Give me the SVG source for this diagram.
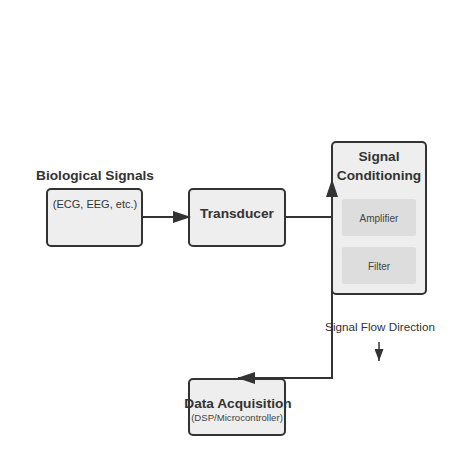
<svg xmlns="http://www.w3.org/2000/svg" width="474" height="474" viewBox="0 0 474 474">
<defs>
<style>
.box{fill:#eeeeee;stroke:#333333;stroke-width:2}
.sub{fill:#dddddd;stroke:none}
.t{font-family:"Liberation Sans",Arial,sans-serif;fill:#333333;text-anchor:middle}
.b{font-weight:bold;font-size:13.7px}
.s{font-size:11px}
.f{font-size:11.7px}
.xs{font-size:10px;fill:#444444}
.xs2{font-size:9.6px;fill:#444444}
.ln{fill:none;stroke:#333333;stroke-width:2}
</style>
<marker id="ah" viewBox="0 0 18 12" refX="17" refY="6" markerWidth="18" markerHeight="12" markerUnits="userSpaceOnUse" orient="auto">
<path d="M0,0 L18,6 L0,12 z" fill="#333333"/>
</marker>
<marker id="ahs" viewBox="0 0 12 9" refX="12" refY="4.5" markerWidth="12" markerHeight="9" markerUnits="userSpaceOnUse" orient="auto">
<path d="M0,0 L12,4.5 L0,9 z" fill="#333333"/>
</marker>
</defs>
<rect width="474" height="474" fill="#ffffff"/>
<g id="bio">
<rect class="box" x="47" y="189" width="95" height="57" rx="4"/>
<text class="t b" x="95" y="180">Biological Signals</text>
<text class="t s" x="95" y="208">(ECG, EEG, etc.)</text>
</g>
<g id="transducer">
<rect class="box" x="189" y="189" width="96" height="57" rx="4"/>
<text class="t b" x="237" y="218">Transducer</text>
</g>
<g id="conditioning">
<rect class="box" x="332" y="142" width="94" height="152" rx="4"/>
<text class="t b" x="379" y="161">Signal</text>
<text class="t b" x="379" y="180">Conditioning</text>
<rect class="sub" x="342" y="199" width="74" height="37" rx="2"/>
<text class="t xs" x="379" y="222">Amplifier</text>
<rect class="sub" x="342" y="247" width="74" height="37" rx="2"/>
<text class="t xs" x="379" y="270">Filter</text>
</g>
<g id="flow-label">
<text class="t f" x="380" y="331">Signal Flow Direction</text>
</g>
<g id="daq">
<rect class="box" x="189" y="379" width="96" height="56" rx="4"/>
<text class="t b" x="238" y="408">Data Acquisition</text>
<text class="t xs2" x="237" y="421">(DSP/Microcontroller)</text>
</g>
<g id="connectors">
<line class="ln" x1="142" y1="217" x2="190" y2="217" marker-end="url(#ah)"/>
<polyline class="ln" points="285,217 332,217"/>
<line class="ln" x1="332" y1="378" x2="332" y2="180" marker-end="url(#ah)"/>
<polyline class="ln" points="332,330 332,378 238,378" marker-end="url(#ah)"/>
<line x1="379" y1="342" x2="379" y2="361" stroke="#333333" stroke-width="1.5" marker-end="url(#ahs)"/>
</g>
</svg>
